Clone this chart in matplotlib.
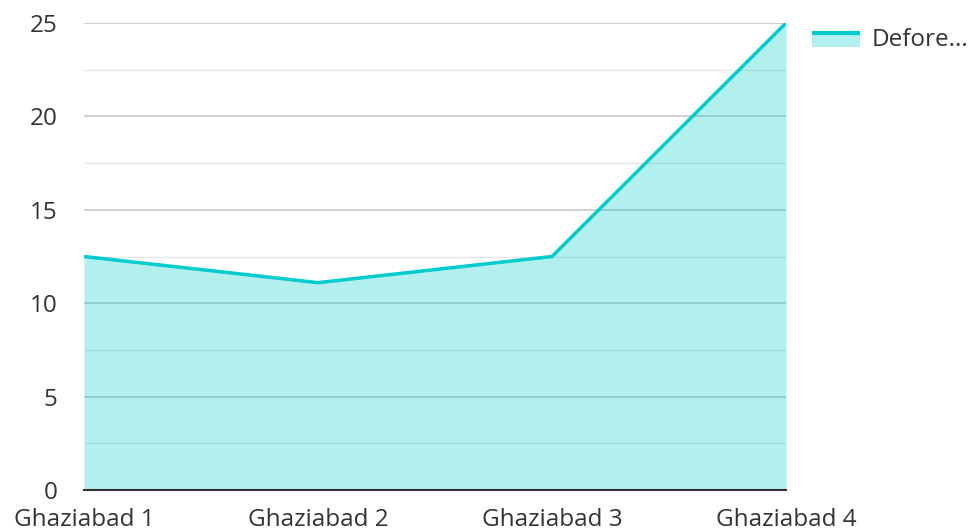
import matplotlib
matplotlib.use("Agg")
import matplotlib.pyplot as plt
from matplotlib.ticker import MultipleLocator
from matplotlib.legend_handler import HandlerBase
from matplotlib.patches import Rectangle
from matplotlib.lines import Line2D

plt.rcParams['font.family'] = ['Open Sans', 'DejaVu Sans']

categories = ["Ghaziabad 1", "Ghaziabad 2", "Ghaziabad 3", "Ghaziabad 4"]
values = [12.5, 11.1, 12.5, 25]
series_name = "Defore..."

teal = "#00cccc"
fill_col = "#b2efef"
text_col = "#333333"
fs = 17.5


class AreaHandler(HandlerBase):
    # line on top, filled box hanging below it
    def create_artists(self, legend, orig, xd, yd, w, h, fontsize, trans):
        top = yd + h * 0.75
        box = Rectangle((xd, yd - h * 0.05), w, top - (yd - h * 0.05),
                        facecolor=fill_col, linewidth=0, transform=trans)
        ln = Line2D([xd, xd + w], [top, top], color=teal, linewidth=3,
                    solid_capstyle="butt", transform=trans)
        return [box, ln]


fig = plt.figure(figsize=(9.72, 5.31), dpi=100)
ax = fig.add_axes([84/972, 1-490/531, (786-84)/972, (490-23)/531])

x = list(range(len(categories)))
ax.fill_between(x, values, 0, color=teal, alpha=0.3, linewidth=0, zorder=3)
line, = ax.plot(x, values, color=teal, linewidth=2.5, zorder=4, solid_capstyle="butt")

ax.set_xlim(0, len(categories) - 1)
ax.set_ylim(0, 25)
ax.yaxis.set_major_locator(MultipleLocator(5))
ax.yaxis.set_minor_locator(MultipleLocator(2.5))
ax.grid(axis="y", which="major", color="#c8c8c8", linewidth=1.2, zorder=1)
ax.grid(axis="y", which="minor", color="#e6e6e6", linewidth=1, zorder=1)

ax.set_xticks(x)
ax.set_xticklabels(categories)
ax.tick_params(axis="both", which="both", length=0, labelsize=fs, colors=text_col)
ax.tick_params(axis="x", pad=13)
ax.tick_params(axis="y", pad=19)

for side in ["top", "right", "left"]:
    ax.spines[side].set_visible(False)
ax.spines["bottom"].set_color(text_col)
ax.spines["bottom"].set_linewidth(1.5)
ax.spines["bottom"].set_zorder(5)

leg = fig.legend(handles=[line], labels=[series_name], loc="upper left",
                 bbox_to_anchor=(790/972, 1-6/531), frameon=False,
                 fontsize=fs, handlelength=2.0, handletextpad=0.45,
                 handler_map={line: AreaHandler()})
for t in leg.get_texts():
    t.set_color(text_col)

fig.savefig("out.png", dpi=100)
